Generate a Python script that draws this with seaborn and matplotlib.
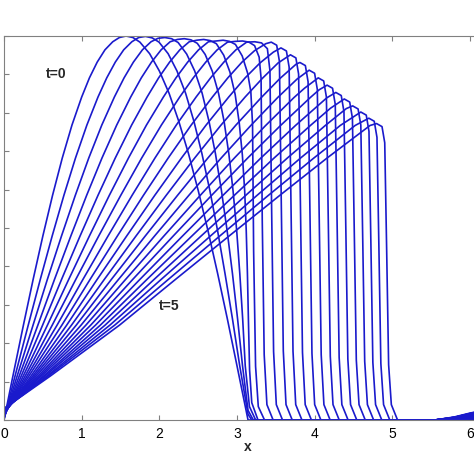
import pandas as pd
import matplotlib
matplotlib.use('Agg')
import matplotlib.pyplot as plt
import seaborn as sns

# curves, one every 0.25 in t, from t=0 to t=5
times = [0.0, 0.25, 0.5, 0.75, 1.0, 1.25, 1.5, 1.75, 2.0, 2.25, 2.5,
         2.75, 3.0, 3.25, 3.5, 3.75, 4.0, 4.25, 4.5, 4.75, 5.0]

x_00 = [0.0, 0.1, 0.25, 0.375, 0.5, 0.625, 0.75, 0.875, 1.0, 1.1, 1.2, 1.3, 1.4, 1.485, 1.571, 1.66, 1.75, 1.875,
        2.0, 2.125, 2.25, 2.375, 2.5, 2.625, 2.75, 2.875, 3.0, 3.142, 6.283]
y_00 = [0.0, 0.100, 0.247, 0.366, 0.479, 0.585, 0.682, 0.768, 0.841, 0.891, 0.932, 0.964, 0.985, 0.996, 1.0, 0.996,
        0.984, 0.954, 0.909, 0.851, 0.778, 0.694, 0.598, 0.494, 0.382, 0.264, 0.141, 0.0, 0.0]

x_01 = [0.0, 0.125, 0.312, 0.467, 0.620, 0.771, 0.920, 1.067, 1.210, 1.323, 1.433, 1.541, 1.646, 1.734, 1.821,
        1.909, 1.996, 2.113, 2.227, 2.338, 2.445, 2.548, 2.650, 2.749, 2.845, 2.941, 3.035, 3.142, 3.19,
        5.55, 5.8, 6.0, 6.283]
y_01 = [0.002, 0.101, 0.247, 0.366, 0.479, 0.585, 0.682, 0.768, 0.841, 0.891, 0.932, 0.964, 0.985, 0.996, 0.999,
        0.995, 0.984, 0.954, 0.909, 0.851, 0.778, 0.694, 0.598, 0.494, 0.382, 0.264, 0.141, 0.015, 0.0,
        0.0, 0.0005, 0.001, 0.002]

x_02 = [0.0, 0.150, 0.374, 0.558, 0.740, 0.918, 1.091, 1.259, 1.421, 1.546, 1.666, 1.782, 1.893, 1.983, 2.071,
        2.158, 2.242, 2.352, 2.455, 2.551, 2.639, 2.722, 2.799, 2.872, 2.941, 3.007, 3.071, 3.142, 3.21,
        5.55, 5.8, 6.0, 6.283]
y_02 = [0.004, 0.102, 0.247, 0.366, 0.479, 0.585, 0.682, 0.768, 0.841, 0.891, 0.932, 0.964, 0.985, 0.994, 0.996,
        0.993, 0.983, 0.953, 0.909, 0.851, 0.778, 0.694, 0.598, 0.494, 0.382, 0.264, 0.141, 0.025, 0.0,
        0.0, 0.001, 0.002, 0.004]

x_03 = [0.0, 0.175, 0.436, 0.650, 0.860, 1.064, 1.261, 1.451, 1.631, 1.768, 1.899, 2.023, 2.139, 2.232, 2.321,
        2.407, 2.488, 2.590, 2.682, 2.763, 2.834, 2.895, 2.949, 2.996, 3.036, 3.073, 3.106, 3.16, 3.24,
        5.55, 5.8, 6.0, 6.283]
y_03 = [0.006, 0.103, 0.247, 0.366, 0.479, 0.585, 0.682, 0.768, 0.841, 0.891, 0.932, 0.964, 0.985, 0.991, 0.993,
        0.990, 0.981, 0.952, 0.908, 0.850, 0.777, 0.693, 0.597, 0.493, 0.381, 0.263, 0.141, 0.035, 0.0,
        0.0, 0.002, 0.004, 0.006]

x_04 = [0.0, 0.200, 0.497, 0.741, 0.979, 1.210, 1.432, 1.643, 1.842, 1.991, 2.132, 2.264, 2.385, 2.481, 2.571,
        2.656, 2.734, 2.829, 2.909, 2.976, 3.028, 3.069, 3.099, 3.119, 3.134, 3.148, 3.162, 3.19, 3.27,
        5.55, 5.8, 6.0, 6.283]
y_04 = [0.008, 0.104, 0.247, 0.366, 0.479, 0.585, 0.682, 0.768, 0.841, 0.891, 0.932, 0.964, 0.985, 0.989, 0.991,
        0.988, 0.980, 0.950, 0.906, 0.848, 0.775, 0.690, 0.596, 0.492, 0.382, 0.250, 0.130, 0.045, 0.0,
        0.0, 0.002, 0.005, 0.008]

x_05 = [0.0, 0.225, 0.559, 0.833, 1.099, 1.356, 1.602, 1.834, 2.052, 2.214, 2.365, 2.505, 2.632, 2.730, 2.821,
        2.905, 2.980, 3.067, 3.137, 3.178, 3.200, 3.214, 3.239, 3.274, 3.354, 5.55, 5.8, 6.0, 6.283]
y_05 = [0.010, 0.105, 0.247, 0.366, 0.479, 0.585, 0.682, 0.768, 0.841, 0.891, 0.932, 0.964, 0.985, 0.987, 0.989,
        0.986, 0.978, 0.948, 0.903, 0.855, 0.770, 0.440, 0.140, 0.035, 0.0, 0.0, 0.003, 0.006, 0.010]

x_06 = [0.0, 0.250, 0.621, 0.924, 1.219, 1.503, 1.772, 2.026, 2.262, 2.437, 2.598, 2.745, 2.878, 2.979, 3.071,
        3.154, 3.226, 3.285, 3.310, 3.325, 3.350, 3.385, 3.465, 5.55, 5.8, 6.0, 6.283]
y_06 = [0.012, 0.106, 0.247, 0.366, 0.479, 0.585, 0.682, 0.768, 0.841, 0.891, 0.932, 0.964, 0.984, 0.986, 0.987,
        0.984, 0.975, 0.945, 0.890, 0.520, 0.170, 0.040, 0.0, 0.0, 0.003, 0.007, 0.012]

x_07 = [0.0, 0.275, 0.683, 1.016, 1.339, 1.649, 1.943, 2.218, 2.473, 2.660, 2.831, 2.986, 3.124, 3.229, 3.316,
        3.391, 3.424, 3.446, 3.471, 3.506, 3.586, 5.55, 5.8, 6.0, 6.283]
y_07 = [0.013, 0.107, 0.247, 0.366, 0.479, 0.585, 0.682, 0.768, 0.841, 0.891, 0.932, 0.964, 0.984, 0.985, 0.982,
        0.967, 0.910, 0.545, 0.178, 0.040, 0.0, 0.0, 0.003, 0.008, 0.013]

x_08 = [0.0, 0.300, 0.745, 1.108, 1.459, 1.795, 2.113, 2.410, 2.683, 2.882, 3.064, 3.227, 3.371, 3.441, 3.511,
        3.546, 3.571, 3.596, 3.631, 3.711, 5.55, 5.8, 6.0, 6.283]
y_08 = [0.015, 0.108, 0.247, 0.366, 0.479, 0.585, 0.682, 0.768, 0.841, 0.891, 0.932, 0.962, 0.980, 0.984, 0.976,
        0.934, 0.550, 0.180, 0.040, 0.0, 0.0, 0.004, 0.009, 0.015]

x_09 = [0.0, 0.325, 0.807, 1.199, 1.579, 1.941, 2.284, 2.602, 2.893, 3.105, 3.297, 3.468, 3.566, 3.636, 3.671,
        3.696, 3.721, 3.756, 3.836, 5.55, 5.8, 6.0, 6.283]
y_09 = [0.016, 0.108, 0.247, 0.366, 0.479, 0.585, 0.682, 0.768, 0.841, 0.891, 0.930, 0.958, 0.969, 0.961, 0.919,
        0.547, 0.179, 0.040, 0.0, 0.0, 0.004, 0.010, 0.016]

x_10 = [0.0, 0.350, 0.869, 1.291, 1.699, 2.088, 2.454, 2.794, 3.104, 3.328, 3.530, 3.688, 3.758, 3.793, 3.818,
        3.843, 3.878, 3.958, 5.55, 5.8, 6.0, 6.283]
y_10 = [0.018, 0.109, 0.247, 0.366, 0.479, 0.585, 0.682, 0.768, 0.841, 0.890, 0.930, 0.951, 0.943, 0.901, 0.539,
        0.176, 0.040, 0.0, 0.0, 0.005, 0.011, 0.018]

x_11 = [0.0, 0.374, 0.930, 1.382, 1.818, 2.234, 2.624, 2.986, 3.314, 3.551, 3.763, 3.810, 3.880, 3.915, 3.940,
        3.965, 4.000, 4.080, 5.55, 5.8, 6.0, 6.283]
y_11 = [0.019, 0.110, 0.247, 0.366, 0.479, 0.585, 0.682, 0.768, 0.840, 0.889, 0.927, 0.931, 0.923, 0.881, 0.529,
        0.173, 0.040, 0.0, 0.0, 0.005, 0.011, 0.019]

x_12 = [0.0, 0.400, 0.992, 1.474, 1.938, 2.380, 2.795, 3.178, 3.525, 3.774, 3.929, 3.999, 4.034, 4.059, 4.084,
        4.119, 4.199, 5.55, 5.8, 6.0, 6.283]
y_12 = [0.021, 0.111, 0.247, 0.366, 0.479, 0.585, 0.682, 0.767, 0.840, 0.888, 0.911, 0.903, 0.861, 0.519, 0.170,
        0.040, 0.0, 0.0, 0.005, 0.013, 0.021]

x_13 = [0.0, 0.424, 1.054, 1.565, 2.058, 2.527, 2.965, 3.369, 3.735, 3.869, 4.046, 4.116, 4.151, 4.176, 4.201,
        4.236, 4.316, 5.55, 5.8, 6.0, 6.283]
y_13 = [0.022, 0.111, 0.247, 0.366, 0.479, 0.585, 0.682, 0.767, 0.840, 0.864, 0.891, 0.883, 0.841, 0.508, 0.166,
        0.040, 0.0, 0.0, 0.006, 0.013, 0.022]

x_14 = [0.0, 0.449, 1.116, 1.657, 2.178, 2.673, 3.136, 3.561, 3.945, 4.058, 4.160, 4.230, 4.265, 4.290, 4.315,
        4.350, 4.430, 5.55, 5.8, 6.0, 6.283]
y_14 = [0.023, 0.112, 0.247, 0.366, 0.479, 0.585, 0.682, 0.767, 0.840, 0.860, 0.872, 0.864, 0.822, 0.497, 0.163,
        0.040, 0.0, 0.0, 0.006, 0.014, 0.023]

x_15 = [0.0, 0.474, 1.178, 1.749, 2.298, 2.819, 3.306, 3.753, 4.156, 4.272, 4.342, 4.377, 4.402, 4.427, 4.462,
        4.542, 5.55, 5.8, 6.0, 6.283]
y_15 = [0.025, 0.113, 0.247, 0.366, 0.479, 0.585, 0.682, 0.767, 0.839, 0.853, 0.845, 0.803, 0.486, 0.159, 0.040,
        0.0, 0.0, 0.006, 0.015, 0.025]

x_16 = [0.0, 0.500, 1.240, 1.840, 2.418, 2.965, 3.476, 3.945, 4.204, 4.381, 4.451, 4.486, 4.511, 4.536, 4.571,
        4.651, 5.55, 5.8, 6.0, 6.283]
y_16 = [0.026, 0.113, 0.247, 0.366, 0.479, 0.585, 0.682, 0.767, 0.812, 0.836, 0.828, 0.786, 0.476, 0.156, 0.040,
        0.0, 0.0, 0.007, 0.016, 0.026]

x_17 = [0.0, 0.524, 1.301, 1.932, 2.537, 3.112, 3.647, 4.137, 4.407, 4.489, 4.559, 4.594, 4.619, 4.644, 4.679,
        4.759, 5.55, 5.8, 6.0, 6.283]
y_17 = [0.027, 0.114, 0.247, 0.366, 0.479, 0.585, 0.682, 0.767, 0.811, 0.818, 0.810, 0.768, 0.466, 0.153, 0.040,
        0.0, 0.0, 0.007, 0.016, 0.027]

x_18 = [0.0, 0.549, 1.363, 2.023, 2.657, 3.258, 3.817, 4.329, 4.594, 4.664, 4.699, 4.724, 4.749, 4.784, 4.864,
        5.55, 5.8, 6.0, 6.283]
y_18 = [0.028, 0.114, 0.247, 0.366, 0.479, 0.585, 0.682, 0.767, 0.802, 0.794, 0.752, 0.457, 0.150, 0.040, 0.0,
        0.0, 0.007, 0.017, 0.028]

x_19 = [0.0, 0.574, 1.425, 2.115, 2.777, 3.404, 3.988, 4.521, 4.697, 4.767, 4.802, 4.827, 4.852, 4.887, 4.967,
        5.55, 5.8, 6.0, 6.283]
y_19 = [0.029, 0.115, 0.247, 0.366, 0.479, 0.585, 0.682, 0.767, 0.786, 0.778, 0.736, 0.448, 0.147, 0.040, 0.0,
        0.0, 0.007, 0.017, 0.029]

x_20 = [0.0, 0.600, 1.487, 2.207, 2.897, 3.551, 4.158, 4.713, 4.797, 4.867, 4.902, 4.927, 4.952, 4.987, 5.067,
        5.55, 5.8, 6.0, 6.283]
y_20 = [0.030, 0.115, 0.247, 0.366, 0.479, 0.585, 0.682, 0.767, 0.772, 0.764, 0.722, 0.440, 0.144, 0.040, 0.0,
        0.0, 0.008, 0.018, 0.030]

x_ticks = [0, 1, 2, 3, 4, 5, 6]
y_ticks = [0.0, 0.1, 0.2, 0.3, 0.4, 0.5, 0.6, 0.7, 0.8, 0.9, 1.0]

# table in long form so seaborn draws one line per t
xs = [x_00, x_01, x_02, x_03, x_04, x_05, x_06, x_07, x_08, x_09, x_10,
      x_11, x_12, x_13, x_14, x_15, x_16, x_17, x_18, x_19, x_20]
ys = [y_00, y_01, y_02, y_03, y_04, y_05, y_06, y_07, y_08, y_09, y_10,
      y_11, y_12, y_13, y_14, y_15, y_16, y_17, y_18, y_19, y_20]
partes = []
for t, xc, yc in zip(times, xs, ys):
    partes.append(pd.DataFrame({'x': xc, 'y': yc, 't': t}))
df = pd.concat(partes, ignore_index=True)

sns.set_theme(style='white')
plt.rcParams['font.family'] = ['Liberation Sans', 'DejaVu Sans']

fig = plt.figure(figsize=(4.74, 4.74), dpi=100)
# axes run a little past the right edge (x goes to 2*pi)
ax = fig.add_axes([4 / 474, 54 / 474, 488 / 474, 384 / 474])

sns.lineplot(data=df, x='x', y='y', units='t', estimator=None, sort=False,
             color='#1a1acc', linewidth=1.2, legend=False, ax=ax)

ax.set_xlim(0, 6.283)
ax.set_ylim(0, 1)
ax.set_xticks(x_ticks)
ax.set_yticks(y_ticks)
ax.tick_params(direction='in', length=3.5, width=0.8, color='#808080',
               top=True, right=True, bottom=True, left=True,
               labelleft=False, labelsize=10, pad=5, labelcolor='black')
for lado in ax.spines.values():
    lado.set_color('#808080')
    lado.set_linewidth(0.8)

ax.set_ylabel('')
ax.set_xlabel('x', fontsize=10, fontweight='bold')
ax.xaxis.set_label_coords(0.5, -0.052)

ax.text(0.667, 0.901, 't=0', fontsize=10, fontweight='bold', ha='center', va='center')
ax.text(2.122, 0.297, 't=5', fontsize=10, fontweight='bold', ha='center', va='center')

fig.savefig('out.png', dpi=100)
